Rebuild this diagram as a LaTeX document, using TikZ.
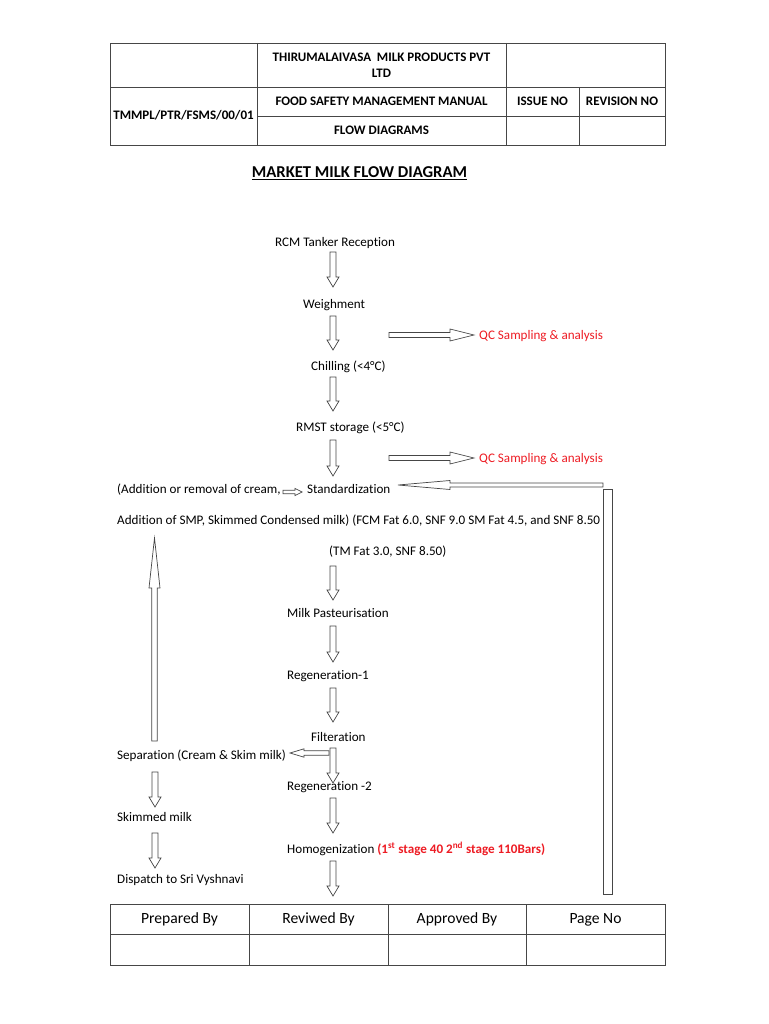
\documentclass[tikz,border=0pt]{standalone}
\usepackage{fontspec}
\setmainfont{Carlito}[Ligatures=NoCommon]
\usetikzlibrary{calc}
\definecolor{qcred}{RGB}{237,28,36}
\definecolor{rulegray}{RGB}{70,70,70}
% block (hollow) arrow: #1 from, #2 to, #3 shaft half width, #4 head half width, #5 head length
\newcommand\blkarr[5]{%
  \draw[blk] let \p1=(#1), \p2=(#2),
    \n1={veclen(\x2-\x1,\y2-\y1)},
    \n2={(\x2-\x1)/\n1}, \n3={(\y2-\y1)/\n1},
    \n4={\n1-#5} in
  ({\x1-#3*(\n3)},{\y1+#3*(\n2)}) --
  ({\x1+(\n4)*(\n2)-#3*(\n3)},{\y1+(\n4)*(\n3)+#3*(\n2)}) --
  ({\x1+(\n4)*(\n2)-#4*(\n3)},{\y1+(\n4)*(\n3)+#4*(\n2)}) --
  (\x2,\y2) --
  ({\x1+(\n4)*(\n2)+#4*(\n3)},{\y1+(\n4)*(\n3)-#4*(\n2)}) --
  ({\x1+(\n4)*(\n2)+#3*(\n3)},{\y1+(\n4)*(\n3)-#3*(\n2)}) --
  ({\x1+#3*(\n3)},{\y1-#3*(\n2)}) -- cycle;}
\newcommand\darr[2]{\blkarr{#1}{#2}{3}{6}{10}}
\begin{document}
\begin{tikzpicture}[x=1pt,y=1pt,
  lbl/.style={inner sep=0pt, anchor=base west, font=\fontsize{13.1}{15.5}\selectfont},
  qc/.style={lbl, text=qcred},
  hdr/.style={inner sep=0pt, font=\fontsize{13}{16.5}\selectfont\bfseries, align=center},
  foot/.style={inner sep=0pt, anchor=base, font=\fontsize{15.6}{18}\selectfont},
  tbl/.style={draw=rulegray, line width=0.8pt},
  blk/.style={draw=rulegray, line width=0.7pt, fill=white, line join=miter}]
\useasboundingbox (0,0) rectangle (768,-1024);

% ---------- header table ----------
\draw[tbl] (110,-43) rectangle (665,-145);
\draw[tbl] (257,-43) -- (257,-145);
\draw[tbl] (506,-43) -- (506,-145);
\draw[tbl] (579,-87) -- (579,-145);
\draw[tbl] (110,-87) -- (665,-87);
\draw[tbl] (257,-116) -- (665,-116);
\node[hdr] (company) at (381.5,-65) {THIRUMALAIVASA~ MILK PRODUCTS PVT\\LTD};
\node[hdr] (docno) at (183.5,-115) {TMMPL/PTR/FSMS/00/01};
\node[hdr] (manual) at (381.5,-101.5) {FOOD SAFETY MANAGEMENT MANUAL};
\node[hdr] (issue) at (542.5,-101.5) {ISSUE NO};
\node[hdr] (rev) at (622,-101.5) {REVISION NO};
\node[hdr] (flowd) at (381.5,-130.5) {FLOW DIAGRAMS};

% ---------- title ----------
\node[inner sep=0pt, font=\fontsize{16.6}{19}\selectfont\bfseries] (title) at (359.5,-173) {\underline{MARKET MILK FLOW DIAGRAM}};

% ---------- flow labels ----------
\node[lbl] (rcm) at (275,-246) {RCM Tanker Reception};
\node[lbl] (weigh) at (303,-308) {Weighment};
\node[qc] (qc1) at (479,-339) {QC Sampling \& analysis};
\node[lbl] (chill) at (311,-370) {Chilling (<4°C)};
\node[lbl] (rmst) at (296,-431) {RMST storage (<5°C)};
\node[qc] (qc2) at (479,-462) {QC Sampling \& analysis};
\node[lbl] (addrem) at (117,-493) {(Addition or removal of cream,};
\node[lbl] (std) at (307,-493) {Standardization};
\node[lbl] (smp) at (117,-524) {Addition of SMP, Skimmed Condensed milk) (FCM Fat 6.0, SNF 9.0 SM Fat 4.5, and SNF 8.50};
\node[lbl] (tm) at (329,-555) {(TM Fat 3.0, SNF 8.50)};
\node[lbl] (past) at (287,-617) {Milk Pasteurisation};
\node[lbl] (reg1) at (287,-679) {Regeneration-1};
\node[lbl] (filt) at (311,-741) {Filteration};
\node[lbl] (sep) at (117,-759) {Separation (Cream \& Skim milk)};
\node[lbl] (reg2) at (287,-790) {Regeneration -2};
\node[lbl] (skim) at (117,-821) {Skimmed milk};
\node[lbl] (homog) at (287,-853) {Homogenization {\color{qcred}\bfseries(1\textsuperscript{st} stage 40 2\textsuperscript{nd} stage 110Bars)}};
\node[lbl] (disp) at (117,-883) {Dispatch to Sri Vyshnavi};

% ---------- arrow end points ----------
\coordinate (a1s) at (333,-252); \coordinate (a1e) at (333,-287);
\coordinate (a2s) at (333,-316); \coordinate (a2e) at (333,-350);
\coordinate (a3s) at (333,-377); \coordinate (a3e) at (333,-411);
\coordinate (a4s) at (333,-440); \coordinate (a4e) at (333,-476);
\coordinate (a5s) at (333,-566); \coordinate (a5e) at (333,-600);
\coordinate (a6s) at (333,-626); \coordinate (a6e) at (333,-662);
\coordinate (a7s) at (333,-688); \coordinate (a7e) at (333,-722);
\coordinate (a8s) at (333,-748); \coordinate (a8e) at (333,-783);
\coordinate (a9s) at (333,-798); \coordinate (a9e) at (333,-833);
\coordinate (a10s) at (333,-861); \coordinate (a10e) at (333,-896);
\coordinate (b1s) at (155,-772); \coordinate (b1e) at (155,-807);
\coordinate (b2s) at (155,-833); \coordinate (b2e) at (155,-868);
\coordinate (q1s) at (389,-335); \coordinate (q1e) at (474,-335);
\coordinate (q2s) at (389,-458); \coordinate (q2e) at (474,-458);
\coordinate (crs) at (283,-492); \coordinate (cre) at (302,-492);
\coordinate (rets) at (603,-485); \coordinate (rete) at (398,-485);
\coordinate (seps) at (329,-753); \coordinate (sepe) at (290,-753);
\coordinate (ups) at (154.5,-741); \coordinate (upe) at (154.5,-538);

% ---------- arrows ----------
\darr{a1s}{a1e}
\darr{a2s}{a2e}
\darr{a3s}{a3e}
\darr{a4s}{a4e}
\darr{a5s}{a5e}
\darr{a6s}{a6e}
\darr{a7s}{a7e}
\darr{a8s}{a8e}
\darr{a9s}{a9e}
\darr{a10s}{a10e}
\darr{b1s}{b1e}
\darr{b2s}{b2e}
\blkarr{q1s}{q1e}{2.5}{6}{24}
\blkarr{q2s}{q2e}{2.5}{6}{24}
\blkarr{crs}{cre}{1.8}{3.6}{7}
\blkarr{seps}{sepe}{2.2}{4.2}{14}
\blkarr{rets}{rete}{2}{4.5}{52}
\blkarr{ups}{upe}{2.7}{5.5}{50}
\node[draw=rulegray, line width=0.7pt, inner sep=0pt, minimum width=9pt, minimum height=405pt] (retbar) at (607.5,-691.5) {};

% ---------- footer table ----------
\draw[tbl] (110,-904) rectangle (665,-965);
\draw[tbl] (110,-934) -- (665,-934);
\draw[tbl] (249,-904) -- (249,-965);
\draw[tbl] (388,-904) -- (388,-965);
\draw[tbl] (526,-904) -- (526,-965);
\node[foot] (prep) at (179.5,-923.5) {Prepared By};
\node[foot] (revw) at (318.5,-923.5) {Reviwed By};
\node[foot] (appr) at (457,-923.5) {Approved By};
\node[foot] (page) at (595.5,-923.5) {Page No};
\end{tikzpicture}
\end{document}
